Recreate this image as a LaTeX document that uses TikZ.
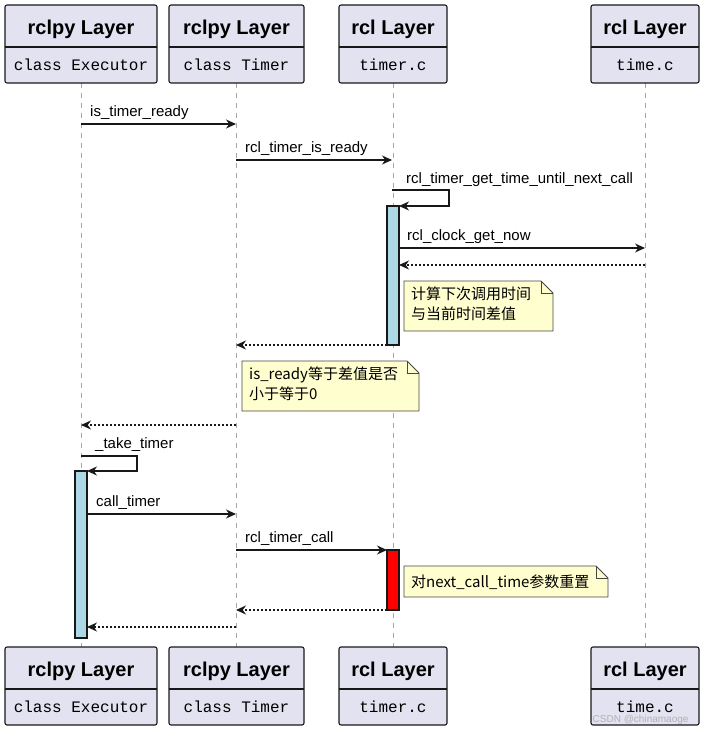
\documentclass[tikz,border=0pt]{standalone}
\usepackage{fontspec}
\setmainfont{Liberation Sans}
\setmonofont{Liberation Mono}
\newfontfamily\cjk{Noto Sans CJK SC}
\usetikzlibrary{arrows.meta}
\definecolor{pbox}{HTML}{E2E2F0}
\definecolor{pline}{HTML}{181818}
\definecolor{pnote}{HTML}{FEFECE}
\definecolor{pact}{HTML}{ADD8E6}
\begin{document}
\begin{tikzpicture}[x=1pt,y=-1pt,
  head/.style={draw=pline,fill=pbox,line width=1.1pt,rounded corners=2pt},
  life/.style={draw=gray!70,dash pattern=on 5pt off 5pt,line width=0.8pt},
  msg/.style={draw=pline,line width=1.1pt,-{Stealth[length=10pt,width=9pt]}},
  ret/.style={msg,dash pattern=on 2pt off 2pt},
  lbl/.style={font=\fontsize{15}{17}\selectfont,anchor=south west,inner sep=1pt},
  act/.style={draw=pline,line width=1.1pt,fill=pact},
  note/.style={draw=pline!80,fill=pnote,line width=0.8pt}]
\useasboundingbox (0,0) rectangle (709,733);
% participants
\foreach \n/\l/\r/\t/\s in {a/5/157/rclpy Layer/class Executor,b/169/304/rclpy Layer/class Timer,c/339/447/rcl Layer/timer.c,d/591/699/rcl Layer/time.c}{
  \draw[life] ({(\l+\r)/2},83) -- ({(\l+\r)/2},647);
  \foreach \y in {5,647}{
    \draw[head] (\l,\y) rectangle (\r,\y+78);
    \draw[pline,line width=1.1pt] (\l,\y+42) -- (\r,\y+42);
    \node[font=\bfseries\fontsize{20}{22}\selectfont] at ({(\l+\r)/2},\y+24) {\t};
    \node[font=\ttfamily\fontsize{16}{18}\selectfont] at ({(\l+\r)/2},\y+60) {\s};
  }
}
% activations
\draw[act] (387,206) rectangle (399,345);
\draw[act] (75,471) rectangle (87,638);
\draw[act,fill=red] (387,550) rectangle (399,610);
% messages
\draw[msg] (81,124) -- (236,124); \node[lbl] at (89,121) {is\_timer\_ready};
\draw[msg] (236,160) -- (392,160); \node[lbl] at (244,157) {rcl\_timer\_is\_ready};
\draw[msg] (392,190) -- (449,190) -- (449,206) -- (399,206); \node[lbl] at (405,188) {rcl\_timer\_get\_time\_until\_next\_call};
\draw[msg] (399,248) -- (645,248); \node[lbl] at (406,245) {rcl\_clock\_get\_now};
\draw[ret] (645,265) -- (399,265);
\draw[note] (404,281) -- (541,281) -- (553,293) -- (553,331) -- (404,331) -- cycle;
\draw[pline!80,line width=0.8pt] (541,281) -- (541,293) -- (553,293);
\node[font=\cjk\fontsize{15}{20}\selectfont,align=left,anchor=north west,inner sep=0pt] at (411,287) {计算下次调用时间\\与当前时间差值};
\draw[ret] (387,345) -- (236,345);
\draw[note] (242,361) -- (407,361) -- (419,373) -- (419,411) -- (242,411) -- cycle;
\draw[pline!80,line width=0.8pt] (407,361) -- (407,373) -- (419,373);
\node[font=\cjk\fontsize{15}{20}\selectfont,align=left,anchor=north west,inner sep=0pt] at (249,367) {is\_ready等于差值是否\\小于等于0};
\draw[ret] (236,425) -- (81,425);
\draw[msg] (81,456) -- (137,456) -- (137,471) -- (87,471); \node[lbl] at (94,453) {\_take\_timer};
\draw[msg] (87,514) -- (236,514); \node[lbl] at (95,511) {call\_timer};
\draw[msg] (236,550) -- (387,550); \node[lbl] at (244,547) {rcl\_timer\_call};
\draw[note] (404,566) -- (596,566) -- (608,578) -- (608,597) -- (404,597) -- cycle;
\draw[pline!80,line width=0.8pt] (596,566) -- (596,578) -- (608,578);
\node[font=\cjk\fontsize{15}{18}\selectfont,anchor=west,inner sep=0pt] at (411,582) {对next\_call\_time参数重置};
\draw[ret] (387,610) -- (236,610);
\draw[ret] (236,627) -- (87,627);
\node[font=\fontsize{10}{11}\selectfont,text=gray!60,anchor=east] at (692,720) {CSDN @chinamaoge};
\end{tikzpicture}
\end{document}
